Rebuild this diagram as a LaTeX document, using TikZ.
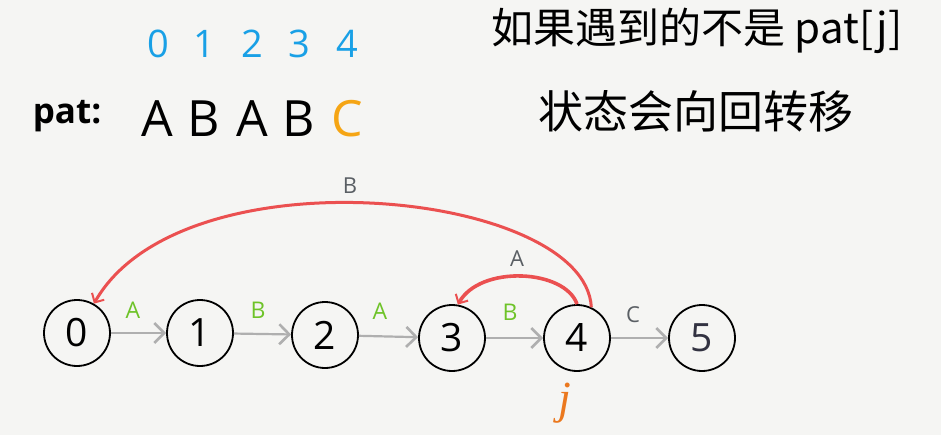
\documentclass[tikz,border=0pt]{standalone}
\usepackage{fontspec}
\setmainfont{Open Sans}
\newfontfamily\cjk{Noto Sans CJK SC}
\newfontfamily\jfont{Liberation Serif}
\usetikzlibrary{arrows.meta}
\definecolor{bgc}{RGB}{245,245,243}
\definecolor{idxblue}{RGB}{25,160,230}
\definecolor{corange}{RGB}{245,165,20}
\definecolor{jorange}{RGB}{235,120,30}
\definecolor{lblgreen}{RGB}{110,195,40}
\definecolor{lblgray}{RGB}{90,95,100}
\definecolor{arrgray}{RGB}{175,175,175}
\definecolor{redarc}{RGB}{235,80,80}
\definecolor{fivec}{RGB}{50,50,65}
\tikzset{
  state/.style={circle, draw=black, line width=1.8pt, minimum size=66pt, inner sep=0pt, font=\fontsize{39}{39}\selectfont},
  fwd/.style={draw=arrgray, line width=2.2pt, -{Straight Barb[length=10pt,width=20pt,line width=2.6pt]}},
  back/.style={draw=redarc, line width=3pt, -{Straight Barb[length=7pt,width=14pt,line width=2pt]}},
  glab/.style={text=lblgreen, font=\fontsize{23}{23}\selectfont},
  ylab/.style={text=lblgray, font=\fontsize{22}{22}\selectfont},
  idx/.style={text=idxblue, font=\fontsize{38}{38}\selectfont},
  ch/.style={font=\fontsize{50}{50}\selectfont},
}
\begin{document}
\begin{tikzpicture}[x=1pt,y=-1pt]
\fill[bgc] (0,0) rectangle (941,435);
\useasboundingbox (0,0) rectangle (941,435);
% indices
\node[idx] (i0) at (158,44) {0};
\node[idx] (i1) at (204,44) {1};
\node[idx] (i2) at (252,44) {2};
\node[idx] (i3) at (299,44) {3};
\node[idx] (i4) at (347,44) {4};
% pattern
\node[font=\bfseries\fontsize{35}{35}\selectfont] (pat) at (67,116) {pat:};
\node[ch] (c0) at (157,119) {A};
\node[ch] (c1) at (204,119) {B};
\node[ch] (c2) at (252,119) {A};
\node[ch] (c3) at (299,119) {B};
\node[ch, text=corange] (c4) at (347,119) {C};
% chinese text
\node[font=\cjk\fontsize{42}{42}\selectfont] (t1) at (697,31) {如果遇到的不是 pat[j]};
\node[font=\cjk\fontsize{45}{45}\selectfont] (t2) at (696,111) {状态会向回转移};
% states
\node[state] (n0) at (77,333) {0};
\node[state] (n1) at (200,333) {1};
\node[state] (n2) at (325,335) {2};
\node[state] (n3) at (452,338) {3};
\node[state] (n4) at (577,338) {4};
\node[state, text=fivec] (n5) at (702,338) {5};
% forward
\draw[fwd] (n0) -- (n1);
\draw[fwd] (n1) -- (n2);
\draw[fwd] (n2) -- (n3);
\draw[fwd] (n3) -- (n4);
\draw[fwd] (n4) -- (n5);
\node[glab] (la) at (133,310) {A};
\node[glab] (lb) at (258,310) {B};
\node[glab] (lc) at (380,311) {A};
\node[glab] (ld) at (510,312) {B};
\node[ylab] (le) at (633,315) {C};
% back arcs
\draw[back] (n4.65) .. controls +(-6,-117) and +(88,-155) .. (n0.60);
\draw[back, line width=3.6pt] (n4.north) .. controls +(-12,-35) and +(22,-40) .. (n3.80);
\node[ylab] (lf) at (350,186) {B};
\node[ylab] (lg) at (517,259) {A};
% j
\node[text=jorange, font=\jfont\itshape\fontsize{46}{46}\selectfont] (j) at (565,403) {j};
\end{tikzpicture}
\end{document}
